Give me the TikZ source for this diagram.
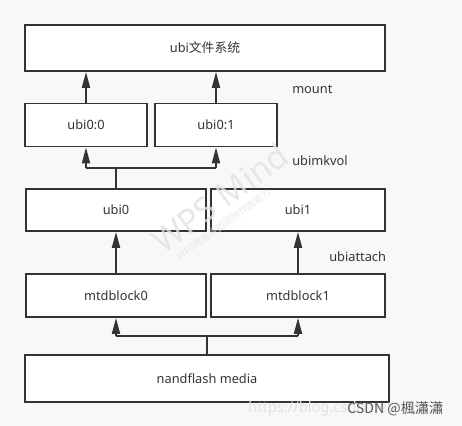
\documentclass[tikz,border=0pt]{standalone}
\usepackage{fontspec}
\setmainfont{Noto Sans}
\newfontfamily\cjk{Noto Sans CJK SC}
\usetikzlibrary{arrows.meta}
\definecolor{bg}{HTML}{F8F8F8}
\definecolor{ln}{HTML}{333333}
\definecolor{wm}{HTML}{E2E2E2}
\tikzset{
  box/.style={draw=ln, fill=white, line width=1.4pt, inner sep=0pt, font=\fontsize{9.6pt}{11pt}\selectfont, text=ln},
  conn/.style={draw=ln, line width=1.4pt, -{Triangle[length=12pt,width=6pt]}},
  seg/.style={draw=ln, line width=1.4pt},
  lbl/.style={anchor=west, inner sep=0pt, font=\fontsize{9.6pt}{11pt}\selectfont, text=ln}
}
\begin{document}
\begin{tikzpicture}[x=0.75pt,y=-0.75pt]
\fill[bg] (0,0) rectangle (462,426);
\useasboundingbox (0,0) rectangle (462,426);
% boxes
\node[box, minimum width=270pt, minimum height=34.5pt] (fs) at (205,48) {ubi{\cjk 文件系统}};
\node[box, minimum width=91.5pt, minimum height=32.25pt] (v0) at (86,125) {ubi0:0};
\node[box, minimum width=91.5pt, minimum height=32.25pt] (v1) at (216,125) {ubi0:1};
\node[box, minimum width=135pt, minimum height=31.5pt] (u0) at (116,210) {ubi0};
\node[box, minimum width=130.5pt, minimum height=31.5pt] (u1) at (298,210) {ubi1};
\node[box, minimum width=135pt, minimum height=32.25pt] (m0) at (116,295.5) {mtdblock0};
\node[box, minimum width=130.5pt, minimum height=32.25pt] (m1) at (298,295.5) {mtdblock1};
\node[box, minimum width=273pt, minimum height=35.25pt] (nf) at (207,378.5) {nandflash media};
% labels
\node[lbl] (lmount) at (292,89.5) {mount};
\node[lbl] (lmk) at (292,161) {ubimkvol};
\node[lbl] (latt) at (329,256.5) {ubiattach};
% connectors
\draw[conn] (v0.north) -- (v0.north |- fs.south);
\draw[conn] (v1.north) -- (v1.north |- fs.south);
\coordinate (j1) at (116,168);
\coordinate (j1l) at (86,168);
\coordinate (j1r) at (216,168);
\draw[seg] (u0.north) -- (j1);
\draw[seg] (j1l) -- (j1r);
\draw[conn] (j1l) -- (v0.south);
\draw[conn] (j1r) -- (v1.south);
\draw[conn] (m0.north) -- (u0.south);
\draw[conn] (m1.north) -- (u1.south);
\coordinate (j2) at (207,336);
\coordinate (j2l) at (116,336);
\coordinate (j2r) at (298,336);
\draw[seg] (nf.north) -- (j2);
\draw[seg] (j2l) -- (j2r);
\draw[conn] (j2l) -- (m0.south);
\draw[conn] (j2r) -- (m1.south);
% watermark (drawn over the boxes, as in the source)
\node[text=wm, opacity=0.8, rotate=36, font=\fontsize{25pt}{27pt}\selectfont, inner sep=0pt] (wpsm) at (220,198) {WPS Mind};
\node[text=wm, opacity=0.8, rotate=36, font=\cjk\fontsize{7pt}{8pt}\selectfont, inner sep=0pt] (wpss) at (224,224) {WPS思维导图提供作图能力};
% csdn watermark
\node[anchor=west, inner sep=0pt, text=wm, font=\fontsize{11pt}{12pt}\selectfont] (url) at (248,409) {https://blog.csdn.net/};
\node[anchor=west, inner sep=0pt, text=black!65, font=\cjk\fontsize{10.6pt}{12pt}\selectfont] (csdn) at (347,409) {CSDN @楓瀟瀟};
\end{tikzpicture}
\end{document}
